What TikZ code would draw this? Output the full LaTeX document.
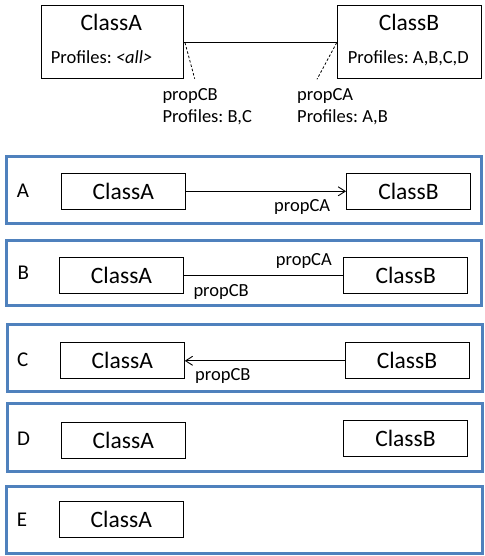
\documentclass[tikz,border=0pt]{standalone}
\usepackage{fontspec}
\setmainfont{Carlito}
\usetikzlibrary{arrows.meta}
\definecolor{panelblue}{RGB}{79,129,189}
\frenchspacing
\begin{document}
\begin{tikzpicture}[x=1pt,y=-1pt,
  classbox/.style={draw,line width=1pt,inner sep=0pt,minimum width=124pt,minimum height=36pt,font=\fontsize{23.5}{26}\selectfont},
  topbox/.style={draw,line width=1.2pt,inner sep=0pt,minimum height=73pt},
  title/.style={anchor=base,inner sep=0pt,font=\fontsize{23.5}{26}\selectfont},
  panel/.style={draw=panelblue,line width=3pt,inner sep=0pt},
  lbl/.style={font=\fontsize{21}{24}\selectfont,anchor=base west,inner sep=0pt},
  small/.style={font=\fontsize{18.5}{21}\selectfont,anchor=base west,inner sep=0pt},
  assoc/.style={line width=0.9pt},
  nav/.style={line width=0.9pt,-{Straight Barb[length=7pt,width=9pt]}},
  dashlink/.style={line width=0.8pt,dash pattern=on 2.5pt off 2pt},
]
\useasboundingbox (0,0) rectangle (484,556);

% ---- top model ----
\node[topbox,minimum width=142pt] (tA) at (112.5,42) {};
\node[topbox,minimum width=144pt] (tB) at (409.5,42) {};
\node[title] (tAt) at (111.3,30.7) {ClassA};
\node[title] (tBt) at (409,30.7) {ClassB};
\node[small] (tAp) at (50.7,63.3) {Profiles: \textit{<all>}};
\node[small] (tBp) at (347.7,63.3) {Profiles: A,B,C,D};
\draw[assoc] (tA.east) -- (tB.west);
\coordinate (dcb1) at (185,42.7);
\coordinate (dcb2) at (194.7,78.7);
\coordinate (dca1) at (336.7,42.7);
\coordinate (dca2) at (317,79.3);
\draw[dashlink] (dcb1) -- (dcb2);
\draw[dashlink] (dca1) -- (dca2);
\node[small] (pcb) at (162.3,100.7) {propCB};
\node[small] (pcbp) at (162.3,122.3) {Profiles: B,C};
\node[small] (pca) at (297,100.7) {propCA};
\node[small] (pcap) at (297,122.3) {Profiles: A,B};

% ---- panels ----
\node[panel,minimum width=475pt,minimum height=67pt] (pA) at (244,190) {};
\node[panel,minimum width=474.5pt,minimum height=65.5pt] (pB) at (243.75,272.75) {};
\node[panel,minimum width=475pt,minimum height=66.7pt] (pC) at (245,358.3) {};
\node[panel,minimum width=475pt,minimum height=67.7pt] (pD) at (244.5,437.8) {};
\node[panel,minimum width=476pt,minimum height=67.5pt] (pE) at (244,519.75) {};

% panel A
\node[lbl] (lA) at (16.7,197.7) {A};
\node[classbox] (aA) at (123.3,191.3) {ClassA};
\node[classbox] (aB) at (408.5,191.3) {ClassB};
\draw[nav] (aA) -- (aB);
\node[small] (aCA) at (274,211.7) {propCA};

% panel B
\node[lbl] (lB) at (17.3,279.3) {B};
\node[classbox] (bA) at (121.5,275.8) {ClassA};
\node[classbox] (bB) at (405.7,275.8) {ClassB};
\draw[assoc] (bA) -- (bB);
\node[small] (bCA) at (275.7,265.7) {propCA};
\node[small] (bCB) at (193.3,296.7) {propCB};

% panel C
\node[lbl] (lC) at (17,366) {C};
\node[classbox] (cA) at (122.3,360.8) {ClassA};
\node[classbox] (cB) at (407,360.8) {ClassB};
\draw[nav] (cB) -- (cA);
\node[small] (cCB) at (195,380.7) {propCB};

% panel D
\node[lbl] (lD) at (17,445) {D};
\node[classbox] (dA) at (123.3,440.5) {ClassA};
\node[classbox] (dB) at (405.5,438.7) {ClassB};

% panel E
\node[lbl] (lE) at (16.7,526.7) {E};
\node[classbox] (eA) at (121.3,519.3) {ClassA};
\end{tikzpicture}
\end{document}
